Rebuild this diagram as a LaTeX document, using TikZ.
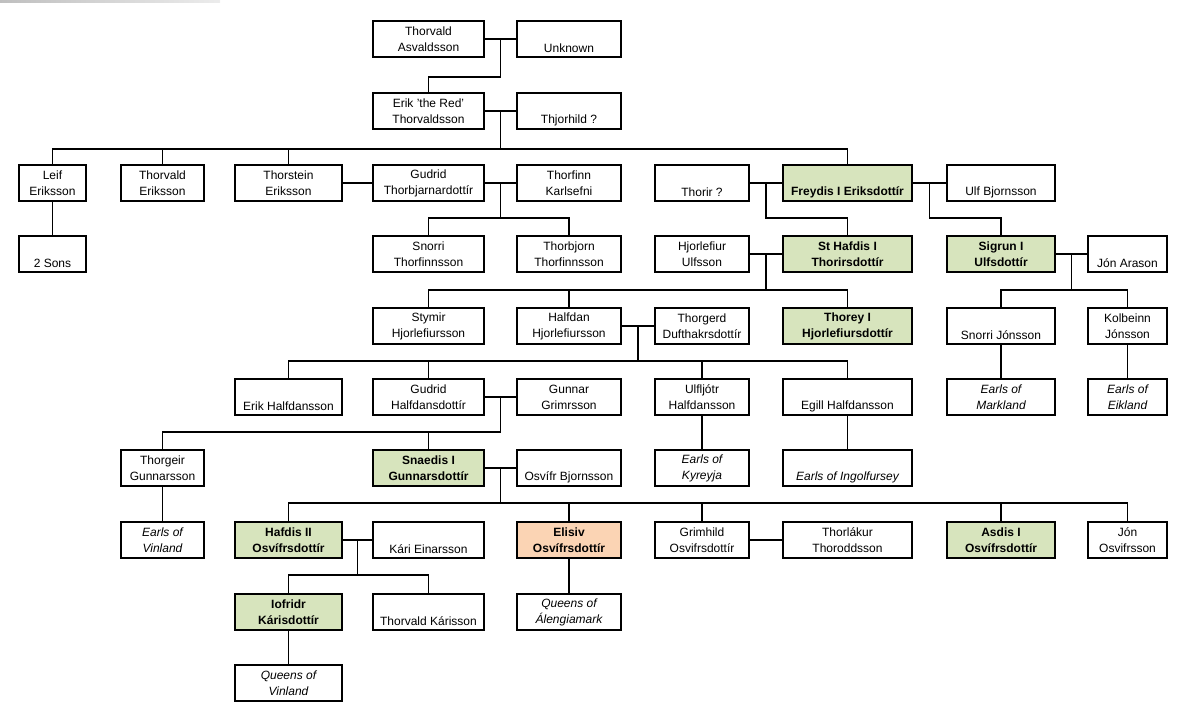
\documentclass[tikz,border=0pt]{standalone}
\usepackage{fontspec}
\setmainfont{Liberation Sans}
\usetikzlibrary{calc}
\begin{document}
\begin{tikzpicture}[x=1pt,y=-1pt,
  box/.style={draw,line width=1.6pt,fill=white,minimum height=36pt,inner sep=0pt,align=center,font=\fontsize{12}{16}\selectfont},
  grn/.style={fill={rgb,255:red,215;green,228;blue,189},font=\fontsize{12}{16}\selectfont\bfseries},
  org/.style={fill={rgb,255:red,251;green,212;blue,180},font=\fontsize{12}{16}\selectfont\bfseries},
  ln/.style={line width=1.6pt}]
\useasboundingbox (0,0) rectangle (1187,714);
\shade[left color=gray!50,right color=gray!15] (0,0) rectangle (220,3);
\newcommand\pb[6]{\node[box,#5,minimum width={(#3-#2)*1pt}] (#1) at ({(#2+#3)/2},{#4+18}) {#6};}
\pb{ta}{373}{484}{21}{}{Thorvald\\Asvaldsson}
\pb{unk}{517}{621}{21}{}{\strut\\Unknown}
\pb{erik}{373}{484}{93}{}{Erik 'the Red'\\Thorvaldsson}
\pb{thj}{517}{621}{93}{}{\strut\\Thjorhild ?}
\pb{leif}{19}{86}{165}{}{Leif\\Eriksson}
\pb{tve}{121}{204}{165}{}{Thorvald\\Eriksson}
\pb{tse}{235}{342}{165}{}{Thorstein\\Eriksson}
\pb{gud}{373}{484}{165}{}{Gudrid\\Thorbjarnardottír}
\pb{tfk}{517}{621}{165}{}{Thorfinn\\Karlsefni}
\pb{thr}{655}{749}{165}{}{\strut\\Thorir ?}
\pb{frey}{783}{912}{165}{grn}{\strut\\Freydis I Eriksdottír}
\pb{ulf}{947}{1055}{165}{}{\strut\\Ulf Bjornsson}
\pb{sons}{19}{86}{236}{}{\strut\\2 Sons}
\pb{snt}{373}{484}{236}{}{Snorri\\Thorfinnsson}
\pb{tbt}{517}{621}{236}{}{Thorbjorn\\Thorfinnsson}
\pb{hju}{655}{749}{236}{}{Hjorlefiur\\Ulfsson}
\pb{sth}{783}{912}{236}{grn}{St Hafdis I\\Thorirsdottír}
\pb{sig}{947}{1055}{236}{grn}{Sigrun I\\Ulfsdottír}
\pb{jar}{1088}{1167}{236}{}{\strut\\Jón Arason}
\pb{sty}{373}{484}{308}{}{Stymir\\Hjorlefiursson}
\pb{hal}{517}{621}{308}{}{Halfdan\\Hjorlefiursson}
\pb{tgd}{655}{749}{308}{}{Thorgerd\\Dufthakrsdottír}
\pb{tho}{783}{912}{308}{grn}{Thorey I\\Hjorlefiursdottír}
\pb{snj}{947}{1055}{308}{}{\strut\\Snorri Jónsson}
\pb{kol}{1088}{1167}{308}{}{Kolbeinn\\Jónsson}
\pb{ehs}{235}{342}{379}{}{\strut\\Erik Halfdansson}
\pb{gdh}{373}{484}{379}{}{Gudrid\\Halfdansdottír}
\pb{gun}{517}{621}{379}{}{Gunnar\\Grimrsson}
\pb{ulj}{655}{749}{379}{}{Ulfljótr\\Halfdansson}
\pb{egi}{783}{912}{379}{}{\strut\\Egill Halfdansson}
\pb{emk}{947}{1055}{379}{}{\itshape Earls of\\\itshape Markland}
\pb{eek}{1088}{1167}{379}{}{\itshape Earls of\\\itshape Eikland}
\pb{tgr}{121}{204}{450}{}{Thorgeir\\Gunnarsson}
\pb{sna}{373}{484}{450}{grn}{Snaedis I\\Gunnarsdottír}
\pb{osv}{517}{621}{450}{}{\strut\\Osvífr Bjornsson}
\pb{eky}{655}{749}{450}{}{\itshape Earls of\\\itshape Kyreyja}
\pb{eig}{783}{912}{450}{}{\strut\\\itshape Earls of Ingolfursey}
\pb{evi}{121}{204}{522}{}{\itshape Earls of\\\itshape Vinland}
\pb{haf}{235}{342}{522}{grn}{Hafdis II\\Osvífrsdottír}
\pb{kar}{373}{484}{522}{}{\strut\\Kári Einarsson}
\pb{eli}{517}{621}{522}{org}{Elisiv\\Osvífrsdottír}
\pb{gri}{655}{749}{522}{}{Grimhild\\Osvifrsdottír}
\pb{tlk}{783}{912}{522}{}{Thorlákur\\Thoroddsson}
\pb{asd}{947}{1055}{522}{grn}{Asdis I\\Osvífrsdottír}
\pb{jos}{1088}{1167}{522}{}{Jón\\Osvifrsson}
\pb{iof}{235}{342}{594}{grn}{Iofridr\\Kárisdottír}
\pb{tvk}{373}{484}{594}{}{\strut\\Thorvald Kárisson}
\pb{qal}{517}{621}{594}{}{\itshape Queens of\\\itshape Álengiamark}
\pb{qvi}{235}{342}{665}{}{\itshape Queens of\\\itshape Vinland}
\newcommand\famline[5]{%
  \draw[ln] (#1.east) -- (#2.west);
  \coordinate (#5) at ($(#1.east)!0.5!(#2.west)$);
  \foreach \c in {#4} {\draw[ln] (#5) -- (#5 |- 0,#3) -| (\c.north);}}
\famline{ta}{unk}{77}{erik}{m0}
\famline{erik}{thj}{149}{leif,tve,tse,frey}{m1}
\draw[ln] (tse.east) -- (gud.west);
\famline{gud}{tfk}{218}{snt,tbt}{m2}
\famline{thr}{frey}{218}{sth}{m3}
\famline{frey}{ulf}{218}{sig}{m4}
\famline{hju}{sth}{290}{sty,hal,tho}{m5}
\famline{sig}{jar}{290}{snj,kol}{m6}
\famline{hal}{tgd}{361}{ehs,gdh,ulj,egi}{m7}
\famline{gdh}{gun}{432}{tgr,sna}{m8}
\famline{sna}{osv}{503}{haf,eli,gri,asd,jos}{m9}
\draw[ln] (gri.east) -- (tlk.west);
\famline{haf}{kar}{575}{iof,tvk}{m10}
\draw[ln] (leif) -- (sons);
\draw[ln] (snj) -- (emk);
\draw[ln] (kol) -- (eek);
\draw[ln] (tgr) -- (evi);
\draw[ln] (ulj) -- (eky);
\draw[ln] (egi) -- (eig);
\draw[ln] (iof) -- (qvi);
\draw[ln] (eli) -- (qal);
\end{tikzpicture}
\end{document}
